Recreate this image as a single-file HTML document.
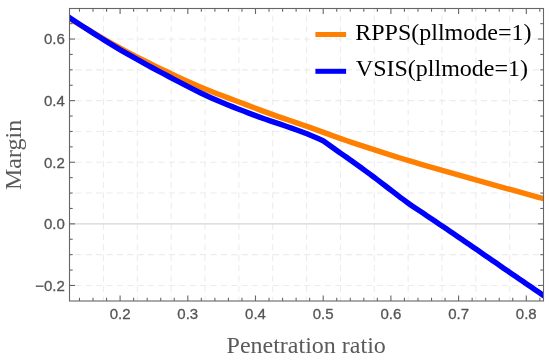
<!DOCTYPE html><html><head><meta charset="utf-8"><title>Margin vs Penetration ratio</title>
<style>html,body{margin:0;padding:0;background:#fff}svg{display:block}text{font-family:"Liberation Sans",sans-serif}.t{font-family:"Liberation Serif",serif}</style></head><body>
<svg width="550" height="362" viewBox="0 0 550 362">
<rect width="550" height="362" fill="#fff"/>
<clipPath id="c"><rect x="69.5" y="8.5" width="474.0" height="292.5"/></clipPath>
<g stroke="#ececec" stroke-width="1.1" stroke-dasharray="6.1,4.3" fill="none">
<line x1="69.62" y1="301.0" x2="69.62" y2="8.5" stroke-dashoffset="1.5"/>
<line x1="103.47" y1="301.0" x2="103.47" y2="8.5" stroke-dashoffset="1.5"/>
<line x1="137.32" y1="301.0" x2="137.32" y2="8.5" stroke-dashoffset="1.5"/>
<line x1="171.18" y1="301.0" x2="171.18" y2="8.5" stroke-dashoffset="1.5"/>
<line x1="205.03" y1="301.0" x2="205.03" y2="8.5" stroke-dashoffset="1.5"/>
<line x1="238.88" y1="301.0" x2="238.88" y2="8.5" stroke-dashoffset="1.5"/>
<line x1="272.72" y1="301.0" x2="272.72" y2="8.5" stroke-dashoffset="1.5"/>
<line x1="306.57" y1="301.0" x2="306.57" y2="8.5" stroke-dashoffset="1.5"/>
<line x1="340.43" y1="301.0" x2="340.43" y2="8.5" stroke-dashoffset="1.5"/>
<line x1="374.27" y1="301.0" x2="374.27" y2="8.5" stroke-dashoffset="1.5"/>
<line x1="408.12" y1="301.0" x2="408.12" y2="8.5" stroke-dashoffset="1.5"/>
<line x1="441.98" y1="301.0" x2="441.98" y2="8.5" stroke-dashoffset="1.5"/>
<line x1="475.83" y1="301.0" x2="475.83" y2="8.5" stroke-dashoffset="1.5"/>
<line x1="509.68" y1="301.0" x2="509.68" y2="8.5" stroke-dashoffset="1.5"/>
<line x1="69.5" y1="39.05" x2="543.5" y2="39.05" stroke-dashoffset="4.6"/>
<line x1="69.5" y1="69.85" x2="543.5" y2="69.85" stroke-dashoffset="4.6"/>
<line x1="69.5" y1="100.65" x2="543.5" y2="100.65" stroke-dashoffset="4.6"/>
<line x1="69.5" y1="131.45" x2="543.5" y2="131.45" stroke-dashoffset="4.6"/>
<line x1="69.5" y1="162.25" x2="543.5" y2="162.25" stroke-dashoffset="4.6"/>
<line x1="69.5" y1="193.05" x2="543.5" y2="193.05" stroke-dashoffset="4.6"/>
<line x1="69.5" y1="254.65" x2="543.5" y2="254.65" stroke-dashoffset="4.6"/>
<line x1="69.5" y1="285.45" x2="543.5" y2="285.45" stroke-dashoffset="4.6"/>
</g>
<line x1="69.5" y1="223.85" x2="543.5" y2="223.85" stroke="#d6d6d6" stroke-width="1.2"/>
<g clip-path="url(#c)" fill="none" stroke-width="5.45" stroke-linejoin="round">
<path d="M62.00,14.07 L68.18,17.80 L74.35,21.53 L80.53,25.25 L86.71,28.95 L92.89,32.61 L99.06,36.22 L105.24,39.78 L111.42,43.27 L117.59,46.69 L123.77,50.04 L129.95,53.33 L136.13,56.55 L142.30,59.70 L148.48,62.80 L154.66,65.84 L160.84,68.84 L167.01,71.80 L173.19,74.74 L179.37,77.64 L185.54,80.49 L191.72,83.27 L197.90,85.98 L204.08,88.58 L210.25,91.08 L216.43,93.48 L222.61,95.82 L228.78,98.13 L234.96,100.43 L241.14,102.76 L247.32,105.12 L253.49,107.49 L259.67,109.84 L265.85,112.16 L272.03,114.41 L278.20,116.58 L284.38,118.70 L290.56,120.79 L296.73,122.88 L302.91,124.99 L309.09,127.15 L315.27,129.37 L321.44,131.62 L327.62,133.89 L333.80,136.14 L339.97,138.35 L346.15,140.50 L352.33,142.60 L358.51,144.66 L364.68,146.69 L370.86,148.69 L377.04,150.68 L383.22,152.66 L389.39,154.62 L395.57,156.57 L401.75,158.49 L407.92,160.38 L414.10,162.23 L420.28,164.05 L426.46,165.85 L432.63,167.62 L438.81,169.39 L444.99,171.15 L451.16,172.91 L457.34,174.67 L463.52,176.42 L469.70,178.16 L475.87,179.91 L482.05,181.64 L488.23,183.37 L494.41,185.09 L500.58,186.80 L506.76,188.51 L512.94,190.22 L519.11,191.93 L525.29,193.63 L531.47,195.33 L537.65,197.03 L543.82,198.73 L550.00,200.42" stroke="#ff7f00"/>
<path d="M62.00,12.63 L67.34,16.14 L72.67,19.66 L78.01,23.17 L83.35,26.67 L88.68,30.15 L94.02,33.59 L99.36,36.99 L104.69,40.34 L110.03,43.63 L115.37,46.86 L120.70,50.04 L126.04,53.16 L131.38,56.23 L136.71,59.24 L142.05,62.20 L147.39,65.12 L152.72,68.00 L158.06,70.85 L163.40,73.68 L168.73,76.50 L174.07,79.32 L179.41,82.13 L184.74,84.92 L190.08,87.66 L195.42,90.35 L200.76,92.97 L206.09,95.50 L211.43,97.93 L216.77,100.28 L222.10,102.55 L227.44,104.75 L232.78,106.90 L238.11,109.01 L243.45,111.08 L248.79,113.12 L254.12,115.12 L259.46,117.08 L264.80,118.99 L270.13,120.86 L275.47,122.68 L280.81,124.46 L286.14,126.25 L291.48,128.07 L296.82,129.96 L302.15,131.94 L307.49,134.04 L312.83,136.28 L318.16,138.62 L323.50,141.00 L327.34,143.73 L331.18,146.46 L335.02,149.18 L338.86,151.91 L342.69,154.62 L346.53,157.34 L350.37,160.06 L354.21,162.79 L358.05,165.53 L361.89,168.29 L365.73,171.08 L369.57,173.90 L373.41,176.76 L377.25,179.65 L381.08,182.58 L384.92,185.53 L388.76,188.49 L392.60,191.45 L396.44,194.39 L400.28,197.31 L404.12,200.18 L407.96,202.97 L411.80,205.64 L415.64,208.22 L419.47,210.78 L423.31,213.34 L427.15,215.91 L430.99,218.48 L434.83,221.06 L438.67,223.65 L442.51,226.24 L446.35,228.85 L450.19,231.46 L454.03,234.07 L457.86,236.69 L461.70,239.32 L465.54,241.95 L469.38,244.59 L473.22,247.23 L477.06,249.87 L480.90,252.52 L484.74,255.16 L488.58,257.81 L492.42,260.46 L496.25,263.11 L500.09,265.75 L503.93,268.40 L507.77,271.04 L511.61,273.68 L515.45,276.32 L519.29,278.96 L523.13,281.59 L526.97,284.22 L530.81,286.85 L534.64,289.48 L538.48,292.11 L542.32,294.74 L546.16,297.36 L550.00,299.99" stroke="#0000ff"/>
</g>
<rect x="69.5" y="8.5" width="474.0" height="292.5" fill="none" stroke="#666" stroke-width="1.1"/>
<g stroke="#666" stroke-width="1.1">
<line x1="79.48" y1="301.0" x2="79.48" y2="297.8"/>
<line x1="79.48" y1="8.5" x2="79.48" y2="11.7"/>
<line x1="93.02" y1="301.0" x2="93.02" y2="297.8"/>
<line x1="93.02" y1="8.5" x2="93.02" y2="11.7"/>
<line x1="106.56" y1="301.0" x2="106.56" y2="297.8"/>
<line x1="106.56" y1="8.5" x2="106.56" y2="11.7"/>
<line x1="120.10" y1="301.0" x2="120.10" y2="295.5"/>
<line x1="120.10" y1="8.5" x2="120.10" y2="14.0"/>
<line x1="133.64" y1="301.0" x2="133.64" y2="297.8"/>
<line x1="133.64" y1="8.5" x2="133.64" y2="11.7"/>
<line x1="147.18" y1="301.0" x2="147.18" y2="297.8"/>
<line x1="147.18" y1="8.5" x2="147.18" y2="11.7"/>
<line x1="160.72" y1="301.0" x2="160.72" y2="297.8"/>
<line x1="160.72" y1="8.5" x2="160.72" y2="11.7"/>
<line x1="174.26" y1="301.0" x2="174.26" y2="297.8"/>
<line x1="174.26" y1="8.5" x2="174.26" y2="11.7"/>
<line x1="187.80" y1="301.0" x2="187.80" y2="295.5"/>
<line x1="187.80" y1="8.5" x2="187.80" y2="14.0"/>
<line x1="201.34" y1="301.0" x2="201.34" y2="297.8"/>
<line x1="201.34" y1="8.5" x2="201.34" y2="11.7"/>
<line x1="214.88" y1="301.0" x2="214.88" y2="297.8"/>
<line x1="214.88" y1="8.5" x2="214.88" y2="11.7"/>
<line x1="228.42" y1="301.0" x2="228.42" y2="297.8"/>
<line x1="228.42" y1="8.5" x2="228.42" y2="11.7"/>
<line x1="241.96" y1="301.0" x2="241.96" y2="297.8"/>
<line x1="241.96" y1="8.5" x2="241.96" y2="11.7"/>
<line x1="255.50" y1="301.0" x2="255.50" y2="295.5"/>
<line x1="255.50" y1="8.5" x2="255.50" y2="14.0"/>
<line x1="269.04" y1="301.0" x2="269.04" y2="297.8"/>
<line x1="269.04" y1="8.5" x2="269.04" y2="11.7"/>
<line x1="282.58" y1="301.0" x2="282.58" y2="297.8"/>
<line x1="282.58" y1="8.5" x2="282.58" y2="11.7"/>
<line x1="296.12" y1="301.0" x2="296.12" y2="297.8"/>
<line x1="296.12" y1="8.5" x2="296.12" y2="11.7"/>
<line x1="309.66" y1="301.0" x2="309.66" y2="297.8"/>
<line x1="309.66" y1="8.5" x2="309.66" y2="11.7"/>
<line x1="323.20" y1="301.0" x2="323.20" y2="295.5"/>
<line x1="323.20" y1="8.5" x2="323.20" y2="14.0"/>
<line x1="336.74" y1="301.0" x2="336.74" y2="297.8"/>
<line x1="336.74" y1="8.5" x2="336.74" y2="11.7"/>
<line x1="350.28" y1="301.0" x2="350.28" y2="297.8"/>
<line x1="350.28" y1="8.5" x2="350.28" y2="11.7"/>
<line x1="363.82" y1="301.0" x2="363.82" y2="297.8"/>
<line x1="363.82" y1="8.5" x2="363.82" y2="11.7"/>
<line x1="377.36" y1="301.0" x2="377.36" y2="297.8"/>
<line x1="377.36" y1="8.5" x2="377.36" y2="11.7"/>
<line x1="390.90" y1="301.0" x2="390.90" y2="295.5"/>
<line x1="390.90" y1="8.5" x2="390.90" y2="14.0"/>
<line x1="404.44" y1="301.0" x2="404.44" y2="297.8"/>
<line x1="404.44" y1="8.5" x2="404.44" y2="11.7"/>
<line x1="417.98" y1="301.0" x2="417.98" y2="297.8"/>
<line x1="417.98" y1="8.5" x2="417.98" y2="11.7"/>
<line x1="431.52" y1="301.0" x2="431.52" y2="297.8"/>
<line x1="431.52" y1="8.5" x2="431.52" y2="11.7"/>
<line x1="445.06" y1="301.0" x2="445.06" y2="297.8"/>
<line x1="445.06" y1="8.5" x2="445.06" y2="11.7"/>
<line x1="458.60" y1="301.0" x2="458.60" y2="295.5"/>
<line x1="458.60" y1="8.5" x2="458.60" y2="14.0"/>
<line x1="472.14" y1="301.0" x2="472.14" y2="297.8"/>
<line x1="472.14" y1="8.5" x2="472.14" y2="11.7"/>
<line x1="485.68" y1="301.0" x2="485.68" y2="297.8"/>
<line x1="485.68" y1="8.5" x2="485.68" y2="11.7"/>
<line x1="499.22" y1="301.0" x2="499.22" y2="297.8"/>
<line x1="499.22" y1="8.5" x2="499.22" y2="11.7"/>
<line x1="512.76" y1="301.0" x2="512.76" y2="297.8"/>
<line x1="512.76" y1="8.5" x2="512.76" y2="11.7"/>
<line x1="526.30" y1="301.0" x2="526.30" y2="295.5"/>
<line x1="526.30" y1="8.5" x2="526.30" y2="14.0"/>
<line x1="539.84" y1="301.0" x2="539.84" y2="297.8"/>
<line x1="539.84" y1="8.5" x2="539.84" y2="11.7"/>
<line x1="69.5" y1="285.45" x2="75.0" y2="285.45"/>
<line x1="543.5" y1="285.45" x2="538.0" y2="285.45"/>
<line x1="69.5" y1="270.05" x2="72.7" y2="270.05"/>
<line x1="543.5" y1="270.05" x2="540.3" y2="270.05"/>
<line x1="69.5" y1="254.65" x2="72.7" y2="254.65"/>
<line x1="543.5" y1="254.65" x2="540.3" y2="254.65"/>
<line x1="69.5" y1="239.25" x2="72.7" y2="239.25"/>
<line x1="543.5" y1="239.25" x2="540.3" y2="239.25"/>
<line x1="69.5" y1="223.85" x2="75.0" y2="223.85"/>
<line x1="543.5" y1="223.85" x2="538.0" y2="223.85"/>
<line x1="69.5" y1="208.45" x2="72.7" y2="208.45"/>
<line x1="543.5" y1="208.45" x2="540.3" y2="208.45"/>
<line x1="69.5" y1="193.05" x2="72.7" y2="193.05"/>
<line x1="543.5" y1="193.05" x2="540.3" y2="193.05"/>
<line x1="69.5" y1="177.65" x2="72.7" y2="177.65"/>
<line x1="543.5" y1="177.65" x2="540.3" y2="177.65"/>
<line x1="69.5" y1="162.25" x2="75.0" y2="162.25"/>
<line x1="543.5" y1="162.25" x2="538.0" y2="162.25"/>
<line x1="69.5" y1="146.85" x2="72.7" y2="146.85"/>
<line x1="543.5" y1="146.85" x2="540.3" y2="146.85"/>
<line x1="69.5" y1="131.45" x2="72.7" y2="131.45"/>
<line x1="543.5" y1="131.45" x2="540.3" y2="131.45"/>
<line x1="69.5" y1="116.05" x2="72.7" y2="116.05"/>
<line x1="543.5" y1="116.05" x2="540.3" y2="116.05"/>
<line x1="69.5" y1="100.65" x2="75.0" y2="100.65"/>
<line x1="543.5" y1="100.65" x2="538.0" y2="100.65"/>
<line x1="69.5" y1="85.25" x2="72.7" y2="85.25"/>
<line x1="543.5" y1="85.25" x2="540.3" y2="85.25"/>
<line x1="69.5" y1="69.85" x2="72.7" y2="69.85"/>
<line x1="543.5" y1="69.85" x2="540.3" y2="69.85"/>
<line x1="69.5" y1="54.45" x2="72.7" y2="54.45"/>
<line x1="543.5" y1="54.45" x2="540.3" y2="54.45"/>
<line x1="69.5" y1="39.05" x2="75.0" y2="39.05"/>
<line x1="543.5" y1="39.05" x2="538.0" y2="39.05"/>
<line x1="69.5" y1="23.65" x2="72.7" y2="23.65"/>
<line x1="543.5" y1="23.65" x2="540.3" y2="23.65"/>
</g>
<g fill="#555" stroke="#555" stroke-width="0.3" font-size="15">
<text x="120.10" y="319.4" text-anchor="middle">0.2</text>
<text x="187.80" y="319.4" text-anchor="middle">0.3</text>
<text x="255.50" y="319.4" text-anchor="middle">0.4</text>
<text x="323.20" y="319.4" text-anchor="middle">0.5</text>
<text x="390.90" y="319.4" text-anchor="middle">0.6</text>
<text x="458.60" y="319.4" text-anchor="middle">0.7</text>
<text x="526.30" y="319.4" text-anchor="middle">0.8</text>
<text x="64.9" y="44.45" text-anchor="end">0.6</text>
<text x="64.9" y="106.05" text-anchor="end">0.4</text>
<text x="64.9" y="167.65" text-anchor="end">0.2</text>
<text x="64.9" y="229.25" text-anchor="end">0.0</text>
<text x="64.9" y="290.85" text-anchor="end">−0.2</text>
</g>
<text class="t" x="306.2" y="352.7" text-anchor="middle" font-size="24" fill="#5a5a5a">Penetration ratio</text>
<text class="t" transform="translate(20.9,154.9) rotate(-90)" text-anchor="middle" font-size="24" fill="#5a5a5a">Margin</text>
<line x1="315.4" y1="34.5" x2="346.1" y2="34.5" stroke="#ff7f00" stroke-width="5"/>
<line x1="315.4" y1="71.3" x2="346.1" y2="71.3" stroke="#0000ff" stroke-width="5"/>
<text class="t" x="355.2" y="40.0" font-size="24" fill="#000">RPPS(pllmode=1)</text>
<text class="t" x="355.8" y="76.1" font-size="24" fill="#000">VSIS(pllmode=1)</text>
</svg></body></html>
